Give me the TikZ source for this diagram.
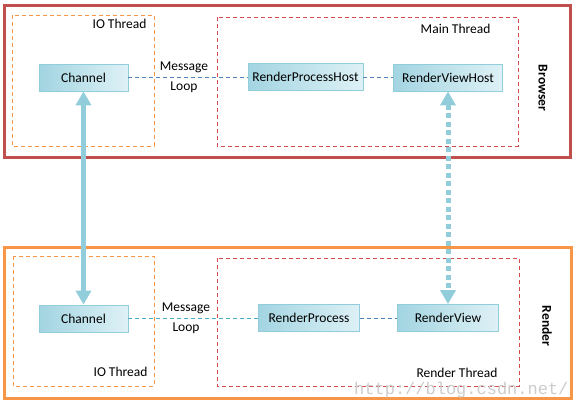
\documentclass[tikz,border=0pt]{standalone}
\usepackage{fontspec}
\setmainfont{Carlito}
\newfontfamily\markfont{Liberation Mono}
\usetikzlibrary{positioning, arrows.meta, shadings}

\definecolor{browserred}{RGB}{192,80,77}
\definecolor{renderorange}{RGB}{247,150,70}
\definecolor{mainred}{RGB}{214,76,76}
\definecolor{boxblue}{RGB}{146,205,220}
\definecolor{paleblue}{RGB}{222,241,246}
\definecolor{linkblue}{RGB}{79,129,189}
\definecolor{linkteal}{RGB}{75,172,198}

\begin{document}
\begin{tikzpicture}[x=1pt, y=-1pt,
		font=\fontsize{13.5pt}{15pt}\selectfont,
		obj/.style={draw=boxblue, line width=0.8pt, minimum width=89pt, minimum height=27pt,
			shading angle=60, left color=boxblue!85, right color=paleblue, inner sep=2pt},
		proc/.style={line width=3pt},
		thread/.style={dashed, line width=0.8pt, dash pattern=on 4pt off 3pt},
		msg/.style={dashed, line width=0.8pt, dash pattern=on 4pt off 3pt},
		ipc/.style={boxblue, line width=5pt, {Triangle[width=15pt,length=14pt]}-{Triangle[width=15pt,length=14pt]}}]
		\useasboundingbox (0,0) rectangle (583,410);

		% browser process
		\draw[proc, browserred] (4,5) rectangle (570,157);
		\draw[thread, renderorange] (12,15) rectangle (154,146);
		\draw[thread, mainred] (217,17) rectangle (518,146);
		\node[anchor=east] (ioB) at (150,24) {IO Thread};
		\node[anchor=east] (mainT) at (494,29) {Main Thread};
		\node[rotate=-90, font=\fontsize{13.5pt}{15pt}\selectfont\bfseries] (browser) at (543,88) {Browser};

		\node[obj] (ChB) at (83.5,77.5) {Channel};
		\node[obj, minimum width=115pt] (RPH) at (305.5,77) {RenderProcessHost};
		\node[obj, minimum width=109pt] (RVH) at (448,77.5) {RenderViewHost};
		\node[align=center, font=\fontsize{13.5pt}{20pt}\selectfont] (loopB) at (184,77) {Message\\Loop};

		\draw[msg, linkblue] (ChB.east) -- (ChB.east -| RPH.west);
		\draw[msg, linkblue] (RPH.east) -- (RPH.east -| RVH.west);

		% render process
		\draw[proc, renderorange] (4,247) rectangle (571,398);
		\draw[thread, renderorange] (13,256) rectangle (154,386);
		\draw[thread, mainred] (217,258) rectangle (519,386);
		\node[anchor=east] (ioR) at (151,372) {IO Thread};
		\node[anchor=east] (renderT) at (501,373) {Render Thread};
		\node[rotate=-90, font=\fontsize{13.5pt}{15pt}\selectfont\bfseries] (render) at (547,326) {Render};

		\node[obj] (ChR) at (83.5,318.5) {Channel};
		\node[obj, minimum width=101pt] (RP) at (309,318) {RenderProcess};
		\node[obj, minimum width=101pt] (RV) at (448,318) {RenderView};
		\node[align=center, font=\fontsize{13.5pt}{20pt}\selectfont] (loopR) at (186,318) {Message\\Loop};

		\draw[msg, linkteal] (ChR.east) -- (ChR.east -| RP.west);
		\draw[msg, linkblue] (RP.east) -- (RP.east -| RV.west);

		% ipc between the two
		\draw[ipc] (ChB.south) -- (ChR.north);
		\draw[ipc, dash pattern=on 5pt off 3.5pt] (RVH.south) -- (RV.north);

		\node[text=black!20, font=\markfont\fontsize{17pt}{18pt}\selectfont, anchor=east] (mark) at (572,390) {http://blog.csdn.net/};
	\end{tikzpicture}
\end{document}
